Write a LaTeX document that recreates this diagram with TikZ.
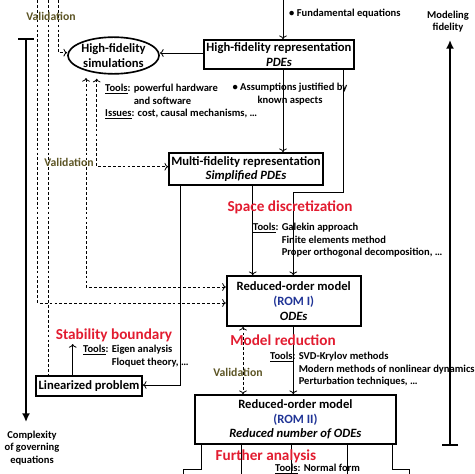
\documentclass[tikz,border=0pt]{standalone}
\usepackage{fontspec}
\setmainfont{Carlito}
\usetikzlibrary{shapes.geometric,arrows.meta}
\definecolor{stagered}{RGB}{226,28,48}
\definecolor{romblue}{RGB}{32,52,150}
\definecolor{validolive}{RGB}{92,84,36}

\begin{document}
\begin{tikzpicture}[x=0.03cm,y=-0.03cm,
  every node/.style={font=\bfseries\fontsize{9}{10.8}\selectfont},
  model/.style={draw,line width=1.4pt,inner sep=0pt,align=center,font=\bfseries\fontsize{10.8}{12.6}\selectfont},
  stage/.style={text=stagered,font=\bfseries\fontsize{13}{15}\selectfont},
  valid/.style={text=validolive,font=\bfseries\fontsize{10}{12}\selectfont},
  tools/.style={align=left,anchor=north west,inner sep=0pt},
  link/.style={line width=0.7pt,-To},
  check/.style={line width=0.7pt,dash pattern=on 2.4pt off 1.8pt},
  axis/.style={line width=1.6pt}]
\useasboundingbox (0,0) rectangle (474,474);

% models
\node[model,minimum width=4.5cm,minimum height=0.87cm] (hfrep) at (279,54.5) {High-fidelity representation\\\textit{PDEs}};
\node[model,ellipse,minimum width=2.6cm,minimum height=1.1cm] (hfsim) at (113.5,55.5) {High-fidelity\\simulations};
\node[model,minimum width=4.62cm,minimum height=0.96cm] (mfrep) at (246,169) {Multi-fidelity representation\\\textit{Simplified PDEs}};
\node[model,minimum width=4.02cm,minimum height=1.5cm] (rom1) at (293.7,301) {Reduced-order model\\\textcolor{romblue}{(ROM I)}\\\textit{ODEs}};
\node[model,minimum width=6.03cm,minimum height=1.47cm] (rom2) at (295.4,419.5) {Reduced-order model\\\textcolor{romblue}{(ROM II)}\\\textit{Reduced number of ODEs}};
\node[model,minimum width=3.18cm,minimum height=0.6cm] (linprob) at (89,386) {Linearized problem};

% free ends
\coordinate (topin) at (283,0);
\coordinate (vtop1) at (37.7,0);
\coordinate (vtop2) at (48.3,0);
\coordinate (vtop3) at (58.3,0);
\coordinate (vsim1) at (86,287);
\coordinate (vsim2) at (96.7,166.7);
\coordinate (turn1) at (343,192);
\coordinate (turn2) at (293.3,192);
\coordinate (mfdown) at (252.7,0);
\coordinate (linin) at (180,385);
\coordinate (stabup) at (72.7,344);
\coordinate (romval) at (243,0);
\coordinate (out1) at (201.7,469);
\coordinate (out1e) at (183,476);
\coordinate (out2) at (241,476);
\coordinate (out3) at (291.7,476);
\coordinate (out4) at (347.7,476);
\coordinate (out5) at (392.7,469);
\coordinate (out5e) at (409,476);

% solid connectors
\draw[link] (topin) -- (topin |- hfrep.north);
\draw[link] (hfrep.west |- 0,53) -- (hfsim.east |- 0,53);
\draw[link] (hfrep.south -| topin) -- (mfrep.north -| topin);
\draw[link] (hfrep.south -| turn1) -- (turn1) -- (turn2) -- (rom1.north -| turn2);
\draw[link] (mfrep.south -| mfdown) -- (rom1.north -| mfdown);
\draw[link] (mfrep.south -| linin) -- (linin) -- (linin -| linprob.east);
\draw[link] (linprob.north -| stabup) -- (stabup);
\draw[link] (rom1.south -| turn2) -- (rom2.north -| turn2);
\draw[line width=0.7pt] (rom2.south -| out1) -- (out1) -| (out1e);
\draw[line width=0.7pt] (rom2.south -| out2) -- (out2);
\draw[line width=0.7pt] (rom2.south -| out3) -- (out3);
\draw[line width=0.7pt] (rom2.south -| out4) -- (out4);
\draw[line width=0.7pt] (rom2.south -| out5) -- (out5) -| (out5e);

% validation (dashed)
\draw[check,-To] (vtop1) |- ([yshift=-0.06cm]rom1.west);
\draw[check] (vtop2) -- (vtop2 |- linprob.north);
\draw[check,-To] (vtop3) |- (hfsim.west |- 0,52.7);
\draw[check,To-To] ([yshift=-0.1cm]hfsim.south -| vsim1) |- (vsim1 -| rom1.west);
\draw[check,To-To] ([yshift=-0.12cm]hfsim.south -| vsim2) |- (vsim2 -| mfrep.west);
\draw[check,To-To] (rom1.south -| romval) -- (rom2.north -| romval);

% fidelity and complexity axes
\coordinate (cxtop) at (26,38);
\coordinate (cxbot) at (26,422);
\coordinate (mfbot) at (450,446);
\coordinate (mftop) at (450,40);
\draw[axis,{Bar[width=0.46cm]}-{Latex[length=2.6mm,width=2.4mm]}] (cxtop) -- (cxbot);
\draw[axis,{Bar[width=0.48cm]}-{Latex[length=2.6mm,width=2.4mm]}] (mfbot) -- (mftop);
\node[align=center,font=\bfseries\fontsize{9}{10.5}\selectfont] (fidtxt) at (448,21.5) {Modeling\\fidelity};
\node[align=center,font=\bfseries\fontsize{9}{10.5}\selectfont] (cxtxt) at (32,448) {Complexity\\of governing\\equations};

% labels
\node[anchor=west,inner sep=0pt] (fundeq) at (289,14) {\textbullet\ Fundamental equations};
\node[valid] (val1) at (51,16) {Validation};
\node[valid] (val2) at (69,162) {Validation};
\node[valid] (val3) at (238,372) {Validation};
\node[stage] (spacedisc) at (290,207) {Space discretization};
\node[stage] (stab) at (114,335) {Stability boundary};
\node[stage] (modred) at (283,340) {Model reduction};
\node[stage] (further) at (266,456) {Further analysis};
\node[tools] (tools1) at (105,84) {\underline{Tools}: powerful hardware\\\phantom{\underline{Tools}: }and software\\\underline{Issues}: cost, causal mechanisms, \dots};
\node[align=center] (assume) at (290,94) {\textbullet\ Assumptions justified by\\known aspects};
\node[tools] (tools2) at (253,223) {\underline{Tools}: Galekin approach\\\phantom{\underline{Tools}: }Finite elements method\\\phantom{\underline{Tools}: }Proper orthogonal decomposition, \dots};
\node[tools] (tools3) at (83,345) {\underline{Tools}: Eigen analysis\\\phantom{\underline{Tools}: }Floquet theory, \dots};
\node[tools] (tools4) at (270,352) {\underline{Tools}: SVD-Krylov methods\\\phantom{\underline{Tools}: }Modern methods of nonlinear dynamics\\\phantom{\underline{Tools}: }Perturbation techniques, \dots};
\node[tools] (tools5) at (275,464) {\underline{Tools}: Normal form};
\end{tikzpicture}
\end{document}
